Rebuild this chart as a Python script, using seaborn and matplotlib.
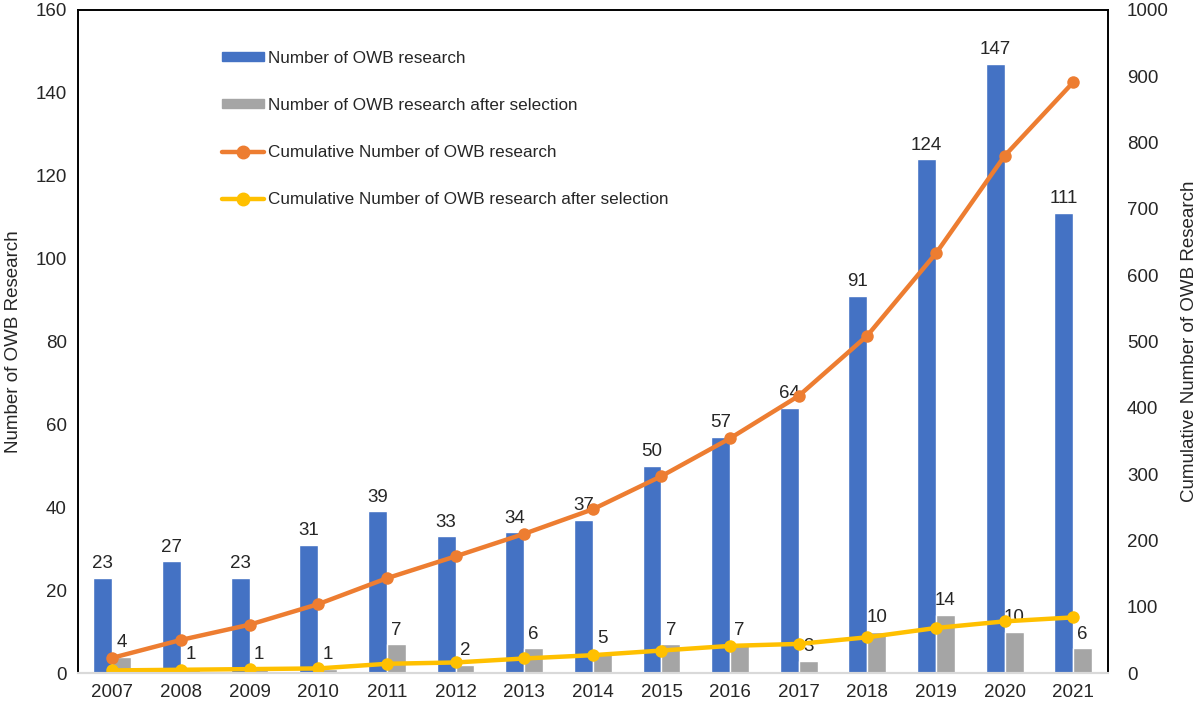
import matplotlib
matplotlib.use("Agg")
import matplotlib.pyplot as plt
import numpy as np
import pandas as pd
import seaborn as sns
from matplotlib.lines import Line2D
from matplotlib.patches import Patch

years = [str(y) for y in range(2007, 2022)]
owb_counts = [23, 27, 23, 31, 39, 33, 34, 37, 50, 57, 64, 91, 124, 147, 111]
selected_counts = [4, 1, 1, 1, 7, 2, 6, 5, 7, 7, 3, 10, 14, 10, 6]
cum_counts = [23, 50, 73, 104, 143, 176, 210, 247, 297, 354, 418, 509, 633, 780, 891]
cum_selected = [4, 5, 6, 7, 14, 16, 22, 27, 34, 41, 44, 54, 68, 78, 84]

BAR_LABELS = ["Number of OWB research", "Number of OWB research after selection"]
LINE_LABELS = ["Cumulative Number of OWB research",
               "Cumulative Number of OWB research after selection"]
BLUE, GREY, ORANGE, YELLOW = "#4472C4", "#A5A5A5", "#ED7D31", "#FFC000"

sns.set_style("white")
plt.rcParams["font.family"] = ["Liberation Sans", "DejaVu Sans"]

bars = pd.DataFrame({
    "Year": years * 2,
    "Count": owb_counts + selected_counts,
    "Series": [BAR_LABELS[0]] * len(years) + [BAR_LABELS[1]] * len(years),
})

fig = plt.figure(figsize=(12, 7.1), dpi=100)
ax = fig.add_axes([0.065, 0.052, 0.858, 0.934])

sns.barplot(
    data=bars, x="Year", y="Count", hue="Series",
    palette=[BLUE, GREY], width=0.55, gap=0, saturation=1,
    legend=False, ax=ax,
)
for container in ax.containers:
    ax.bar_label(container, padding=4, fontsize=13.5)

ax.set_ylim(0, 160)
ax.set_yticks(range(0, 161, 20))
ax.set_xlim(-0.5, len(years) - 0.5)
ax.set_xlabel("")
ax.set_ylabel("Number of OWB Research", fontsize=13.5, labelpad=10)
ax.tick_params(axis="both", labelsize=13.5, length=0, pad=8)

ax2 = ax.twinx()
pos = np.arange(len(years))
sns.lineplot(x=pos, y=cum_counts, color=ORANGE, linewidth=3.2,
             marker="o", markersize=9, markeredgewidth=0, ax=ax2)
sns.lineplot(x=pos, y=cum_selected, color=YELLOW, linewidth=3.2,
             marker="o", markersize=9, markeredgewidth=0, ax=ax2)
ax2.set_ylim(0, 1000)
ax2.set_yticks(range(0, 1001, 100))
ax2.set_ylabel("Cumulative Number of OWB Research", fontsize=13.5, labelpad=9)
ax2.tick_params(axis="y", labelsize=13.5, length=0, pad=14)

for a in (ax, ax2):
    for side in ("left", "right", "top"):
        a.spines[side].set_color("black")
        a.spines[side].set_linewidth(1.2)
    a.spines["bottom"].set_color("#D9D9D9")
    a.spines["bottom"].set_linewidth(1.5)

handles = [
    Patch(facecolor=BLUE, edgecolor=BLUE),
    Patch(facecolor=GREY, edgecolor=GREY),
    Line2D([], [], color=ORANGE, linewidth=3.2, marker="o", markersize=9),
    Line2D([], [], color=YELLOW, linewidth=3.2, marker="o", markersize=9),
]
ax2.legend(
    handles, BAR_LABELS + LINE_LABELS, loc="upper left",
    bbox_to_anchor=(0.172, 0.95), bbox_transform=fig.transFigure,
    frameon=False, fontsize=12.3, handlelength=2.45, handleheight=0.42,
    handletextpad=0.25, labelspacing=1.88,
)

fig.savefig("out.png", dpi=100)
